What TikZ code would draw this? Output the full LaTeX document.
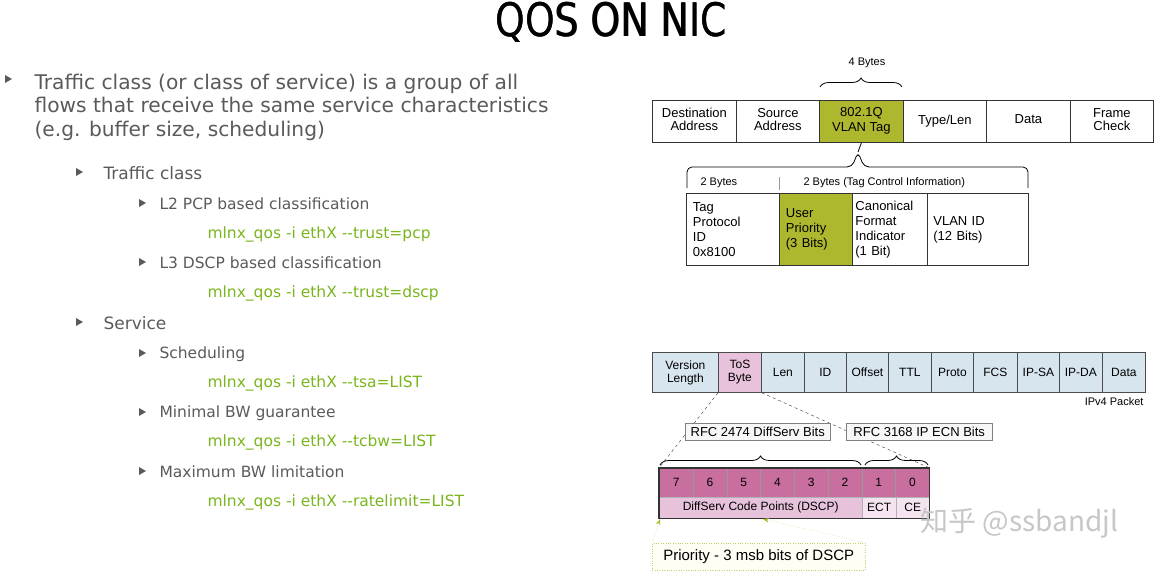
\documentclass[tikz,border=0pt]{standalone}
\usepackage{fontspec}
\setmainfont{DejaVu Sans}
\newfontfamily\cond{DejaVu Sans Condensed}
\newfontfamily\arial{Liberation Sans}
\newfontfamily\cjk{Noto Sans CJK SC}
\usetikzlibrary{decorations.pathreplacing,arrows.meta}
\definecolor{txt}{HTML}{5A5A5A}
\definecolor{cmd}{HTML}{7AB51D}
\definecolor{olive}{HTML}{AEB82E}
\definecolor{ipblue}{HTML}{D7E5EF}
\definecolor{tospink}{HTML}{E7C2DA}
\definecolor{bitdark}{HTML}{C96F9F}
\definecolor{bitlight}{HTML}{E6C3DB}
\definecolor{ecnlight}{HTML}{F4E4EF}
\tikzset{
 lone/.style={anchor=west,text=txt,font=\fontsize{20.2}{23.5}\selectfont,align=left},
 ltwo/.style={anchor=west,text=txt,font=\fontsize{17}{20}\selectfont},
 lthree/.style={anchor=west,text=txt,font=\fontsize{15.5}{18}\selectfont},
 cmdtxt/.style={anchor=west,text=cmd,font=\fontsize{15.5}{18}\selectfont},
 frbox/.style={draw=black!80,line width=0.8pt,font=\arial\fontsize{13}{15}\selectfont,align=center,inner sep=0pt},
 subbox/.style={draw=black!80,line width=0.8pt,font=\arial\fontsize{13}{15}\selectfont,align=left,inner sep=0pt},
 ipbox/.style={draw=black!70,line width=0.8pt,fill=ipblue,font=\arial\fontsize{12}{13}\selectfont,align=center,inner sep=0pt},
 bitbox/.style={draw=black!40,fill=bitdark,font=\arial\fontsize{12}{13}\selectfont,inner sep=0pt},
 rfcbox/.style={draw=black!50,fill=black!3,font=\arial\fontsize{13}{15}\selectfont,inner sep=0pt},
 bracestyle/.style={decorate,decoration={brace,amplitude=6pt},line width=0.8pt},
}
\newcommand{\tri}[2]{\fill[txt] (#1-3,#2-4) -- (#1+4,#2) -- (#1-3,#2+4) -- cycle;}
\begin{document}
\begin{tikzpicture}[x=1pt,y=-1pt]
\useasboundingbox (0,0) rectangle (1157,575);
\node[font=\cond\fontsize{42}{44}\selectfont,yscale=1.1] (title) at (611,22) {QOS ON NIC};
\node[font=\cond\fontsize{42}{44}\selectfont,yscale=1.1] at (611.6,22) {QOS ON NIC};
% left text
\tri{8}{79}
\node[lone] (t1) at (31,107) {Traffic class (or class of service) is a group of all\\flows that receive the same service characteristics\\(e.g. buffer size, scheduling)};
\tri{79}{172}
\node[ltwo] (t2) at (100,173) {Traffic class};
\tri{142}{203}
\node[lthree] (t3) at (156,204) {L2 PCP based classification};
\node[cmdtxt] (c1) at (204,234) {mlnx\_qos -i ethX -{}-trust=pcp};
\tri{142}{262}
\node[lthree] (t4) at (156,263) {L3 DSCP based classification};
\node[cmdtxt] (c2) at (204,293) {mlnx\_qos -i ethX -{}-trust=dscp};
\tri{79}{322}
\node[ltwo] (t5) at (100,323) {Service};
\tri{142}{353}
\node[lthree] (t6) at (156,354) {Scheduling};
\node[cmdtxt] (c3) at (204,383) {mlnx\_qos -i ethX -{}-tsa=LIST};
\tri{142}{412}
\node[lthree] (t7) at (156,413) {Minimal BW guarantee};
\node[cmdtxt] (c4) at (204,442) {mlnx\_qos -i ethX -{}-tcbw=LIST};
\tri{142}{471}
\node[lthree] (t8) at (156,472) {Maximum BW limitation};
\node[cmdtxt] (c5) at (204,502) {mlnx\_qos -i ethX -{}-ratelimit=LIST};
% Ethernet frame
\foreach \a/\b/\t/\n in {652/736/{Destination\\Address}/f1,736/819/{Source\\Address}/f2,903/986/{Type/Len}/f4,986/1070/{Data}/f5,1070/1153/{Frame\\Check}/f6}{
  \node[frbox,minimum width=\b-\a,minimum height=42,anchor=north west] (\n) at (\a,100) {\raisebox{4pt}{\shortstack{\t}}};}
\node[frbox,fill=olive,minimum width=84,minimum height=42,anchor=north west] (f3) at (819,100) {\raisebox{4pt}{\shortstack{802.1Q\\VLAN Tag}}};
\draw[bracestyle,decoration={amplitude=9pt}] (820,87) coordinate (b1s) -- (902,87) coordinate (b1e);
\node[font=\arial\fontsize{11}{13}\selectfont] (b4) at (867,63) {4 Bytes};
\coordinate (b2tip) at (858,152);
\draw[line width=0.8pt] (f3.south) -- (b2tip);
\draw[line width=0.8pt,rounded corners=5pt] (687,188) -- (687,167) -- (852,167) -- (b2tip) -- (864,167) -- (1028,167) -- (1028,188);
\node[anchor=west,font=\arial\fontsize{11}{13}\selectfont] (by1) at (697,183) {2 Bytes};
\node[anchor=west,font=\arial\fontsize{11}{13}\selectfont] (by2) at (800,183) {2 Bytes (Tag Control Information)};
\draw[black!40] (779,177) -- (779,190);
\node[subbox,minimum width=93,minimum height=72,anchor=north west,text width=80] (s1) at (686,193) {Tag\\Protocol\\ID\\0x8100};
\node[subbox,fill=olive,minimum width=73,minimum height=72,anchor=north west,text width=60] (s2) at (779,193) {User\\Priority\\(3 Bits)\\[15pt]};
\node[subbox,minimum width=75,minimum height=72,anchor=north west,text width=69] (s3) at (852,193) {Canonical\\Format\\Indicator\\(1 Bit)};
\node[subbox,minimum width=101,minimum height=72,anchor=north west,text width=89] (s4) at (927,193) {VLAN ID\\(12 Bits)\\[30pt]};
% IPv4
\foreach \a/\b/\t/\n in {652/718/{Version\\Length}/p1,761/804/{Len}/p3,804/846/{ID}/p4,846/888/{Offset}/p5,888/931/{TTL}/p6,931/973/{Proto}/p7,973/1017/{FCS}/p8,1017/1059/{IP-SA}/p9,1059/1102/{IP-DA}/p10,1102/1145/{Data}/p11}{
  \node[ipbox,minimum width=\b-\a,minimum height=40,anchor=north west] (\n) at (\a,352) {\t};}
\node[ipbox,fill=tospink,minimum width=43,minimum height=40,anchor=north west] (p2) at (718,352) {ToS\\Byte};
\node[anchor=east,font=\arial\fontsize{11}{13}\selectfont] (ipv4) at (1147,402) {IPv4 Packet};
% bits
\foreach \i/\t in {0/7,1/6,2/5,3/4,4/3,5/2,6/1,7/0}{
  \node[bitbox,minimum width=34,minimum height=29,anchor=north west] (bit\t) at (659+\i*33.75,468) {\t};}
\node[draw=black!30,fill=bitlight,minimum width=203,minimum height=21,anchor=north west,inner sep=0pt,font=\arial\fontsize{12}{13}\selectfont] (dscp) at (659,497) {DiffServ Code Points (DSCP)};
\node[draw=black!30,fill=ecnlight,minimum width=34,minimum height=21,anchor=north west,inner sep=0pt,font=\arial\fontsize{12}{13}\selectfont] (ect) at (862,497) {ECT};
\node[draw=black!30,fill=ecnlight,minimum width=33,minimum height=21,anchor=north west,inner sep=0pt,font=\arial\fontsize{12}{13}\selectfont] (ce) at (896,497) {CE};
\draw[black!80,line width=1.2pt] (bit7.north west) rectangle (ce.south east);
\draw[bracestyle,decoration={amplitude=9pt}] (660,465) coordinate (b3s) -- (861,465) coordinate (b3e);
\draw[bracestyle,decoration={amplitude=9pt}] (865,465) coordinate (b4s) -- (928,465) coordinate (b4e);
\draw[dashed,black!80] (p2.south west) -- (bit7.north west);
\draw[dashed,black!80] (p2.south east) -- (bit0.north east);
\node[rfcbox,minimum width=145,minimum height=17,anchor=north west] (r1) at (685,423) {RFC 2474 DiffServ Bits};
\node[rfcbox,minimum width=146,minimum height=17,anchor=north west] (r2) at (846,423) {RFC 3168 IP ECN Bits};
% priority
\node[draw=olive!70,dotted,fill=yellow!4,minimum width=213,minimum height=27,anchor=north west,inner sep=0pt,font=\arial\fontsize{15}{17}\selectfont] (prio) at (652,543) {Priority - 3 msb bits of DSCP};
\coordinate (pa) at (660,519);
\coordinate (pb) at (763,519);
\draw[olive,dotted,-{Stealth[length=6pt]}] (prio.north west) -- (pa);
\draw[olive,dotted,-{Stealth[length=6pt]}] (prio.north east) -- (pb);
% watermark
\node[text=black!22,font=\cjk\fontsize{28}{30}\selectfont,anchor=west] (wm) at (917,523) {知乎 @ssbandjl};
\end{tikzpicture}
\end{document}
